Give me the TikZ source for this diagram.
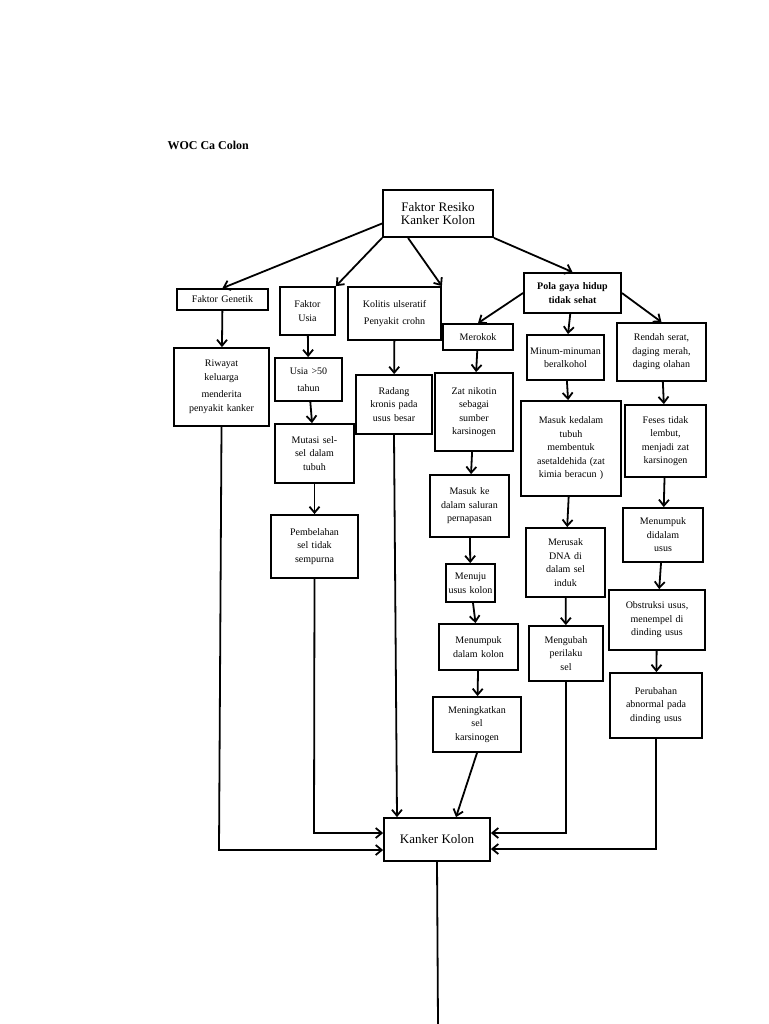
\documentclass[tikz,border=0pt]{standalone}
\usepackage{fontspec}
\setmainfont{Liberation Serif}
\usetikzlibrary{arrows.meta}
\begin{document}
\begin{tikzpicture}[x=1pt,y=-1pt,
  bx/.style={draw,line width=1.8pt,align=center,font=\fontsize{10}{13.5}\selectfont,inner sep=1pt},
  ar/.style={line width=1.8pt,-{Straight Barb[length=6pt,width=10pt]}},
  ln/.style={line width=1.8pt}]
\useasboundingbox (0,0) rectangle (768,1024);
\node[font=\bfseries\fontsize{12}{14}\selectfont,anchor=west] (title) at (164,145) {WOC Ca Colon};
\newcommand{\bxat}[6]{\node[bx,minimum width=#3-#2,minimum height=#5-#4,text width=#3-#2-4] (#1) at ({(#2+#3)/2},{(#4+#5)/2}) {#6};}
\bxat{fr}{383}{493}{190}{237}{\fontsize{13}{17}\selectfont Faktor Resiko\\ \fontsize{13}{17}\selectfont Kanker Kolon}
\bxat{gen}{177}{268}{289}{310}{Faktor Genetik}
\bxat{usia}{280}{335}{287}{335}{Faktor\\Usia}
\bxat{kol}{348}{441}{287}{340}{Kolitis ulseratif\\[4pt]Penyakit crohn}
\bxat{pola}{524}{621}{273}{313}{\textbf{Pola gaya hidup tidak sehat}}
\bxat{rok}{443}{513}{324}{350}{Merokok}
\bxat{min}{527}{604}{335}{380}{Minum-minuman beralkohol}
\bxat{ser}{617}{706}{323}{381}{Rendah serat, daging merah, daging olahan}
\bxat{riw}{174}{269}{348}{426}{Riwayat\\keluarga\\[4pt]menderita\\penyakit kanker}
\bxat{u50}{275}{342}{358}{401}{Usia >50\\[4pt]tahun}
\bxat{rad}{356}{432}{375}{434}{Radang\\kronis pada\\usus besar}
\bxat{nik}{435}{513}{373}{451}{Zat nikotin\\sebagai\\sumber\\karsinogen}
\bxat{mas}{521}{621}{401}{496}{Masuk kedalam\\tubuh\\membentuk\\asetaldehida (zat\\kimia beracun )}
\bxat{fes}{625}{706}{405}{477}{Feses tidak\\lembut,\\menjadi zat\\karsinogen}
\bxat{mut}{275}{354}{424}{483}{Mutasi sel-\\sel dalam\\tubuh}
\bxat{sal}{430}{509}{475}{537}{Masuk ke\\dalam saluran\\pernapasan}
\bxat{pem}{271}{358}{515}{578}{Pembelahan\\sel tidak\\sempurna}
\bxat{dna}{526}{605}{528}{597}{Merusak\\DNA di\\dalam sel\\induk}
\bxat{tum}{623}{703}{508}{562}{Menumpuk\\didalam\\usus}
\bxat{menu}{446}{495}{564}{602}{Menuju usus kolon}
\bxat{obs}{609}{705}{590}{650}{Obstruksi usus,\\menempel di\\dinding usus}
\bxat{tk}{439}{518}{624}{670}{Menumpuk\\dalam kolon}
\bxat{ubah}{529}{603}{626}{681}{Mengubah\\perilaku\\sel}
\bxat{perub}{610}{702}{673}{738}{Perubahan\\abnormal pada\\dinding usus}
\bxat{ning}{433}{521}{697}{752}{Meningkatkan\\sel\\karsinogen}
\bxat{kk}{384}{490}{818}{861}{\fontsize{13}{17}\selectfont Kanker Kolon}
\coordinate (bot) at (438,1024);
\draw[ar] (fr.west) ++(0,10) -- (gen.north);
\draw[ar] (fr.south west) -- (usia.north east);
\draw[ar] (fr.south) ++(-30,0) -- (kol.north east);
\draw[ar] (fr.south east) -- (pola.north);
\draw[ar] (gen) -- (riw);
\draw[ar] (usia) -- (u50);
\draw[ar] (u50) -- (mut);
\draw[ar] (mut) -- (pem);
\draw[ar] (kol) -- (rad);
\draw[ar] (pola.west) -- (rok.north);
\draw[ar] (pola) -- (min);
\draw[ar] (pola.east) -- (ser.north);
\draw[ar] (rok) -- (nik);
\draw[ar] (nik) -- (sal);
\draw[ar] (sal) -- (menu);
\draw[ar] (menu) -- (tk);
\draw[ar] (tk) -- (ning);
\draw[ar] (min) -- (mas);
\draw[ar] (mas) -- (dna);
\draw[ar] (dna) -- (ubah);
\draw[ar] (ser) -- (fes);
\draw[ar] (fes) -- (tum);
\draw[ar] (tum) -- (obs);
\draw[ar] (obs) -- (perub);
\draw[ar] (riw.south) -- (219,850) -- (kk.west|-0,850);
\draw[ar] (pem.south) -- (314,833) -- (kk.west|-0,833);
\draw[ar] (rad.south) -- (kk.north-|397,0);
\draw[ar] (ning.south) -- (kk.north-|456,0);
\draw[ar] (ubah.south) -- (566,833) -- (kk.east|-0,833);
\draw[ar] (perub.south) -- (656,849) -- (kk.east|-0,849);
\draw[ln] (kk.south) -- (bot);
\end{tikzpicture}
\end{document}
